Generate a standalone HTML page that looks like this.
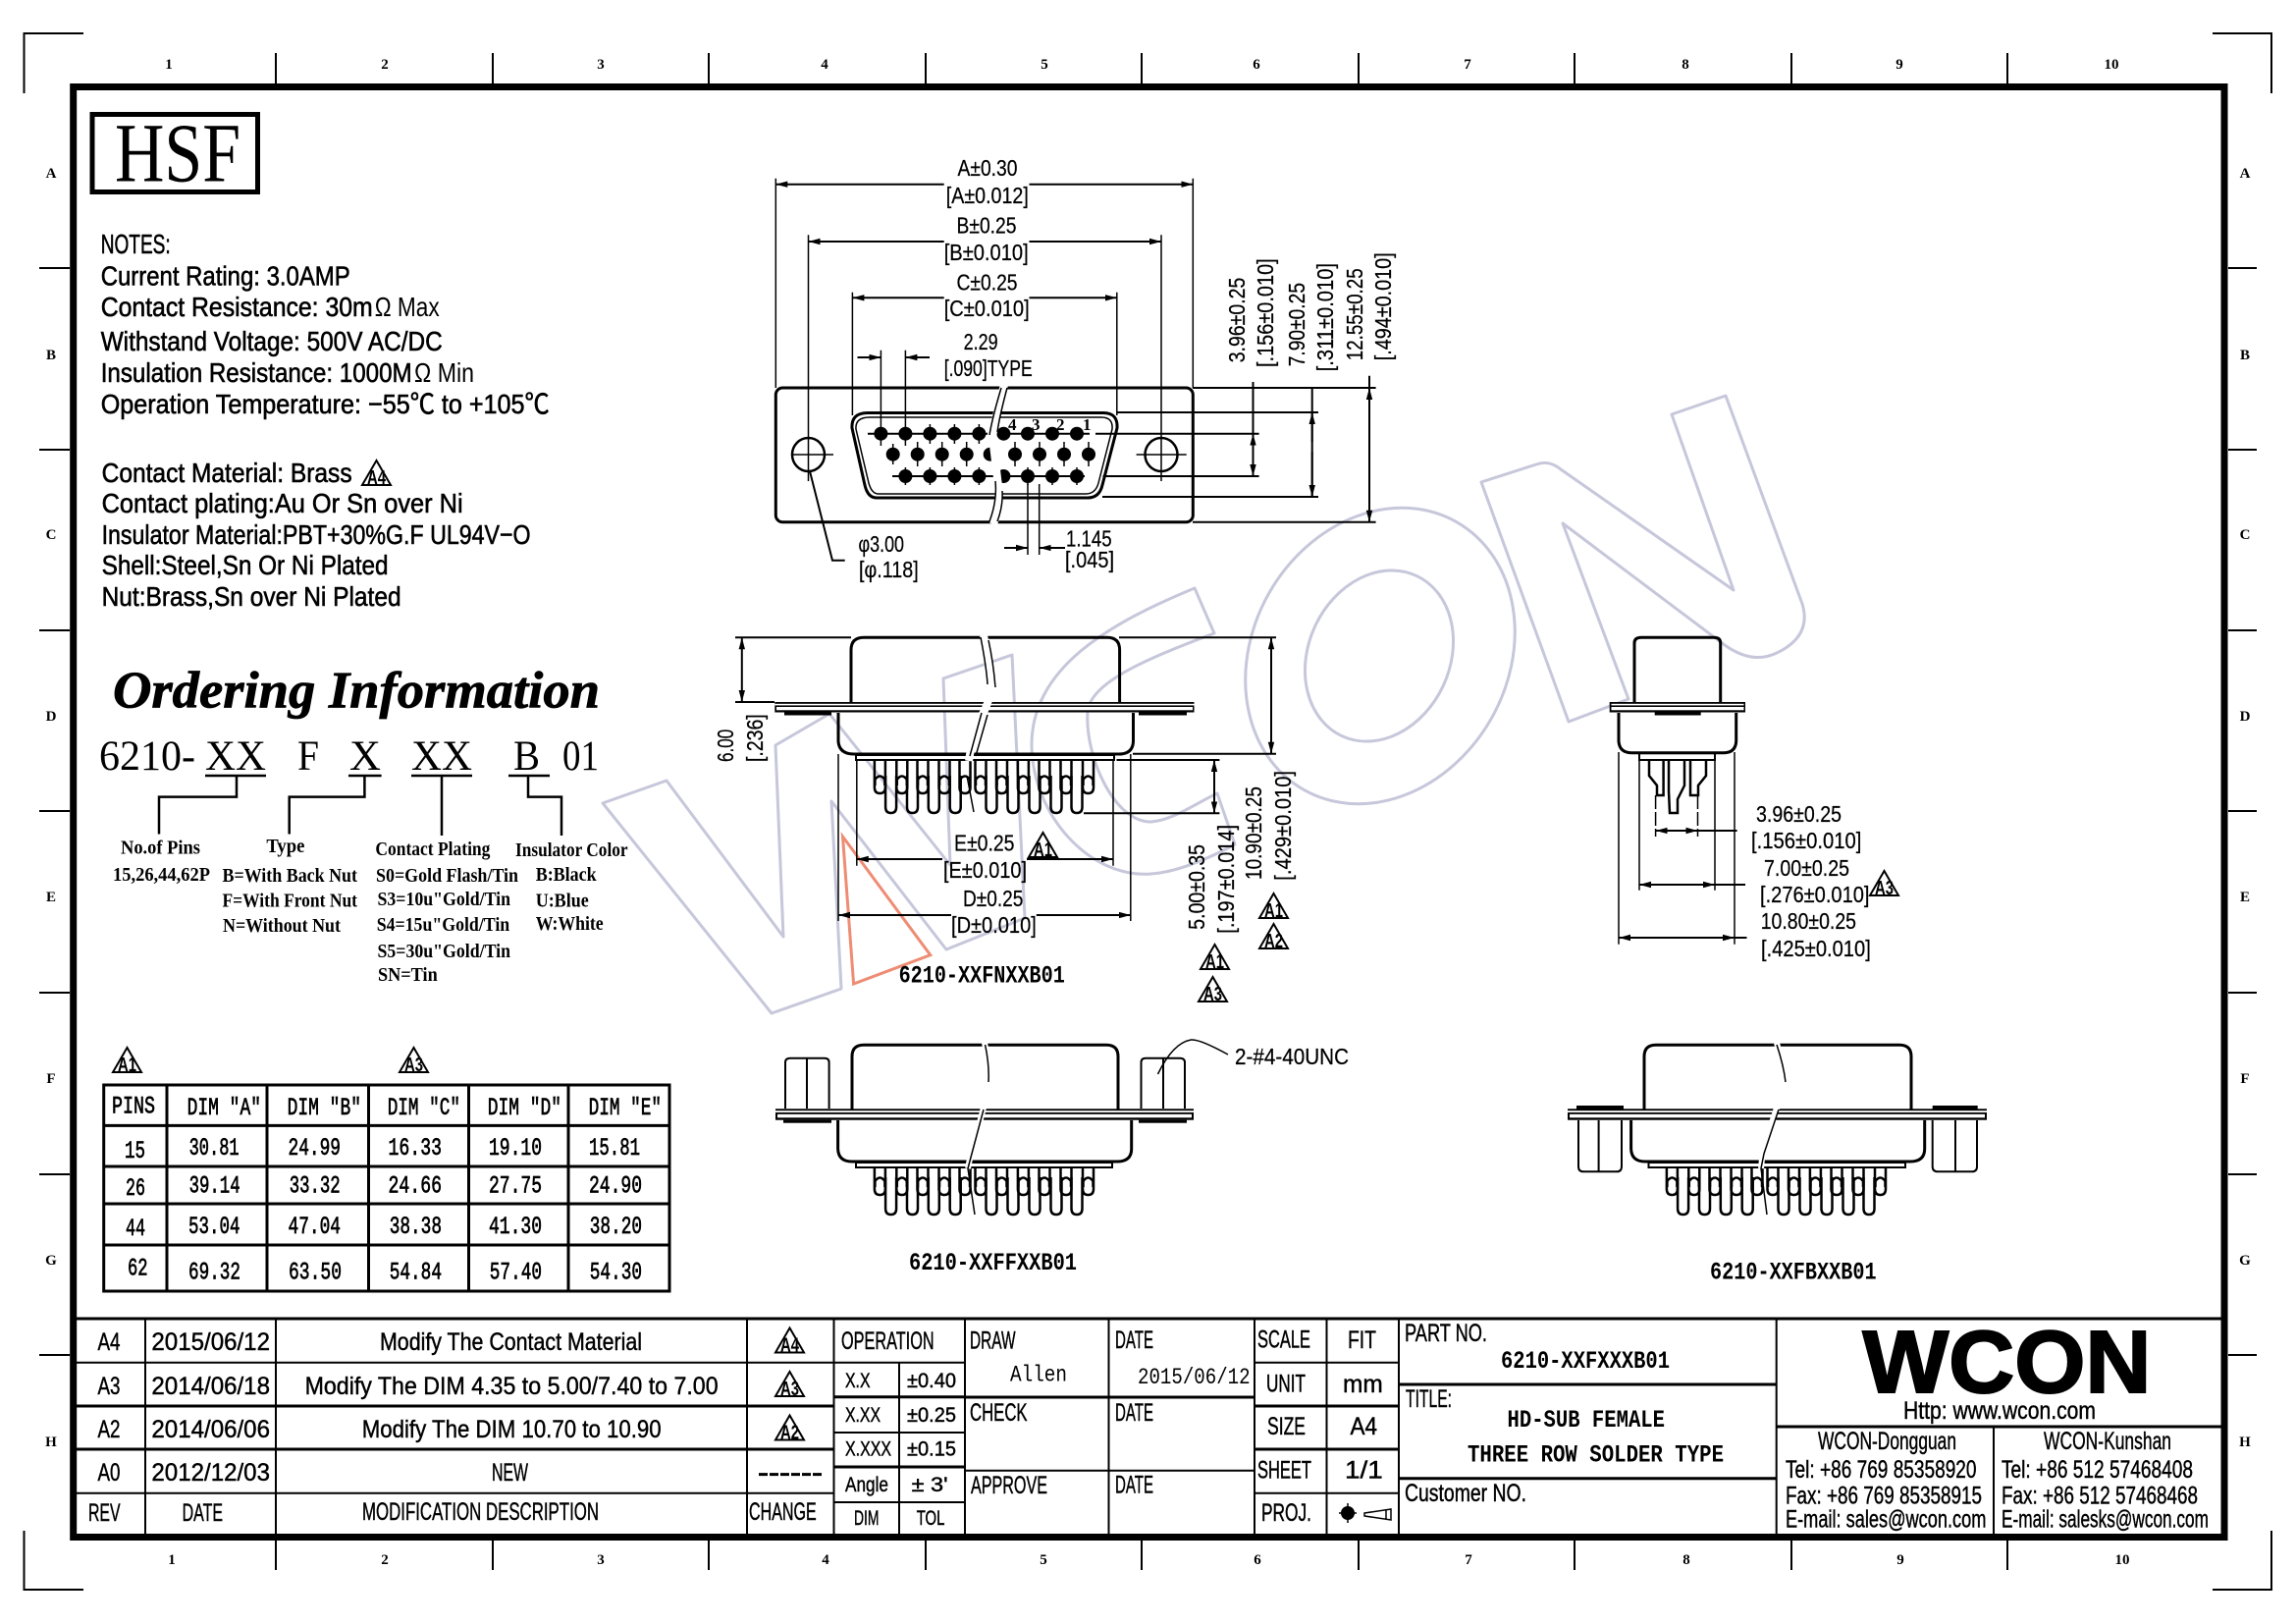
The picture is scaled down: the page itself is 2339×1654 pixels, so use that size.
<!DOCTYPE html>
<html><head><meta charset="utf-8"><title>6210-XXFXXXB01</title>
<style>
html,body{margin:0;padding:0;background:#fff}
svg{display:block;font-family:"Liberation Sans",sans-serif}
text{fill:#000}
.n{font-size:28px;stroke:#000;stroke-width:.6px}
.c{font-size:25px;stroke:#000;stroke-width:.45px}
.d{font-size:23px;stroke:#000;stroke-width:.25px}
.o{font-family:"Liberation Serif",serif;font-weight:bold;font-size:20px}
.v{font-family:"Liberation Serif",serif;font-size:43px}
.m{font-family:"Liberation Mono",monospace;font-weight:bold;font-size:25px}
.mt{font-family:"Liberation Mono",monospace;font-size:25px;stroke:#000;stroke-width:.7px}
.b{font-family:"Liberation Serif",serif;font-weight:bold;font-size:15px}
.t{font-size:20px;font-weight:bold}
.k{fill:none;stroke:#000}
.l1{stroke-width:1.5}.l2{stroke-width:2}.l3{stroke-width:3}
.wm{fill:none;stroke:#c6c7da;stroke-width:3;stroke-linejoin:round}
</style></head><body>
<svg xmlns="http://www.w3.org/2000/svg" width="2339" height="1654" viewBox="0 0 2339 1654">
<defs>
<marker id="a" markerUnits="userSpaceOnUse" markerWidth="13" markerHeight="8" refX="12" refY="4" orient="auto-start-reverse"><path d="M0 .8 L12 4 L0 7.2Z" fill="#000"/></marker>
<path id="pa" d="M-5.5 0 V28 Q-5.5 34 0 34 Q5.5 34 5.5 28 V0 M-5 26 V20 Q0 13 5 20 V26"/>
<path id="pb" d="M-5.5 16 V48 Q-5.5 54 0 54 Q5.5 54 5.5 48 V16"/>
<g id="pins" class="k" style="stroke-width:2.5">
<use href="#pa" x="896.4"/><use href="#pa" x="918.8"/><use href="#pa" x="940"/><use href="#pa" x="962"/><use href="#pa" x="983"/><use href="#pa" x="999"/><use href="#pa" x="1020.5"/><use href="#pa" x="1042.4"/><use href="#pa" x="1064"/><use href="#pa" x="1086"/><use href="#pa" x="1108.5"/>
<use href="#pb" x="907.6"/><use href="#pb" x="929.5"/><use href="#pb" x="951.3"/><use href="#pb" x="973.2"/><use href="#pb" x="1010"/><use href="#pb" x="1032"/><use href="#pb" x="1054"/><use href="#pb" x="1076"/><use href="#pb" x="1097"/>
</g>
<g id="tr"><path d="M15.5 1 L1 26 H30Z" fill="none" stroke="#000" stroke-width="2"/></g>
</defs>
<rect width="2339" height="1654" fill="#fff"/>

<!-- watermark -->
<path class="wm" d="M614 818 L679 795 L798 954 L790 759 L845 727 L968 881 L961 691 L1031 667 L1044 935 L964 967 L847 816 L857 1007 L786 1032Z"/>
<path class="wm" d="M1217 599 C1130 635,1050 680,1051 760 C1052 830,1110 895,1173 890 C1200 888,1230 875,1258 860 L1240 808 C1215 820,1195 835,1173 837 C1135 838,1105 770,1108 725 C1110 695,1170 670,1237 645Z"/>
<ellipse class="wm" cx="1406" cy="668" rx="157" ry="130" transform="rotate(-60 1406 668)"/>
<ellipse class="wm" cx="1405" cy="668" rx="90" ry="72" transform="rotate(-65 1405 668)"/>
<path class="wm" d="M1509 491 L1565 473 Q1578 468 1590 478 L1766 601 L1703 422 L1758 403 L1836 615 Q1846 648 1810 665 Q1785 677 1757 657 L1592 533 L1659 712 L1598 735Z"/>
<path d="M858.5 852 L947.8 972.7 L869.6 1002Z" fill="none" stroke="#ee8c74" stroke-width="3"/>

<!-- frame -->
<rect x="74.7" y="88.5" width="2191.3" height="1477" fill="none" stroke="#000" stroke-width="7"/>
<path class="k l2" d="M85 34 H24.5 V95 M2254 34 H2314 V95 M24.5 1559 V1619 H85 M2254 1619 H2314 V1559"/>
<path class="k l2" d="M281 54V88M502 54V88M722 54V88M943 54V88M1163 54V88M1384 54V88M1604 54V88M1825 54V88M2045 54V88 M281 1569V1599M502 1569V1599M722 1569V1599M943 1569V1599M1163 1569V1599M1384 1569V1599M1604 1569V1599M1825 1569V1599M2045 1569V1599"/>
<path class="k l2" d="M40 273H71M40 458H71M40 642H71M40 826H71M40 1011H71M40 1196H71M40 1380H71 M2270 273H2299M2270 458H2299M2270 642H2299M2270 826H2299M2270 1011H2299M2270 1196H2299M2270 1380H2299"/>
<g class="b" text-anchor="middle">
<text x="172" y="70">1</text><text x="392" y="70">2</text><text x="612" y="70">3</text><text x="840" y="70">4</text><text x="1064" y="70">5</text><text x="1280" y="70">6</text><text x="1495" y="70">7</text><text x="1717" y="70">8</text><text x="1935" y="70">9</text><text x="2151" y="70">10</text>
<text x="175" y="1593">1</text><text x="392" y="1593">2</text><text x="612" y="1593">3</text><text x="841" y="1593">4</text><text x="1063" y="1593">5</text><text x="1281" y="1593">6</text><text x="1496" y="1593">7</text><text x="1718" y="1593">8</text><text x="1936" y="1593">9</text><text x="2162" y="1593">10</text>
<text x="52" y="181">A</text><text x="52" y="366">B</text><text x="52" y="549">C</text><text x="52" y="734">D</text><text x="52" y="918">E</text><text x="52" y="1103">F</text><text x="52" y="1288">G</text><text x="52" y="1473">H</text>
<text x="2287" y="181">A</text><text x="2287" y="366">B</text><text x="2287" y="549">C</text><text x="2287" y="734">D</text><text x="2287" y="918">E</text><text x="2287" y="1103">F</text><text x="2287" y="1288">G</text><text x="2287" y="1473">H</text>
</g>

<!-- HSF + notes -->
<rect x="94" y="116.5" width="168.5" height="79" fill="none" stroke="#000" stroke-width="5"/>
<text x="117" y="184.6" textLength="128" lengthAdjust="spacingAndGlyphs" style="font-family:'Liberation Serif',serif;font-size:86px">HSF</text>
<g class="n">
<text x="102.7" y="258" textLength="71" lengthAdjust="spacingAndGlyphs">NOTES:</text>
<text x="102.7" y="290.5" textLength="254" lengthAdjust="spacingAndGlyphs">Current  Rating:  3.0AMP</text>
<text x="102.7" y="322" textLength="277" lengthAdjust="spacingAndGlyphs">Contact  Resistance:  30m</text>
<text x="381.7" y="322" textLength="66" lengthAdjust="spacingAndGlyphs" style="stroke-width:0">Ω  Max</text>
<text x="102.7" y="357" textLength="348" lengthAdjust="spacingAndGlyphs">Withstand  Voltage:  500V  AC/DC</text>
<text x="102.7" y="389" textLength="317" lengthAdjust="spacingAndGlyphs">Insulation  Resistance:  1000M</text>
<text x="422" y="389" textLength="61" lengthAdjust="spacingAndGlyphs" style="stroke-width:0">Ω  Min</text>
<text x="102.7" y="421" textLength="457" lengthAdjust="spacingAndGlyphs" style="font-family:'Liberation Sans','Noto Sans CJK SC',sans-serif">Operation  Temperature:  −55℃  to  +105℃</text>
<text x="103.6" y="491" textLength="255" lengthAdjust="spacingAndGlyphs">Contact  Material:  Brass</text>
<text x="103.6" y="522" textLength="368" lengthAdjust="spacingAndGlyphs">Contact  plating:Au  Or  Sn  over  Ni</text>
<text x="103.6" y="554" textLength="437" lengthAdjust="spacingAndGlyphs">Insulator  Material:PBT+30%G.F  UL94V−O</text>
<text x="103.6" y="585" textLength="292" lengthAdjust="spacingAndGlyphs">Shell:Steel,Sn  Or  Ni  Plated</text>
<text x="103.6" y="617" textLength="305" lengthAdjust="spacingAndGlyphs">Nut:Brass,Sn  over  Ni  Plated</text>
</g>
<use href="#tr" x="368" y="468"/><text class="t" x="374" y="493" textLength="19" lengthAdjust="spacingAndGlyphs">A4</text>

<!-- ordering -->
<text x="115" y="720.5" textLength="496" lengthAdjust="spacingAndGlyphs" style="font-family:'Liberation Serif',serif;font-weight:bold;font-style:italic;font-size:53px;stroke:#000;stroke-width:.8px">Ordering Information</text>
<g class="v">
<text x="101" y="784" textLength="98" lengthAdjust="spacingAndGlyphs">6210-</text>
<text x="209" y="784" textLength="62" lengthAdjust="spacingAndGlyphs">XX</text>
<text x="303" y="784" textLength="22" lengthAdjust="spacingAndGlyphs">F</text>
<text x="356" y="784" textLength="32" lengthAdjust="spacingAndGlyphs">X</text>
<text x="419" y="784" textLength="62" lengthAdjust="spacingAndGlyphs">XX</text>
<text x="523" y="784" textLength="27" lengthAdjust="spacingAndGlyphs">B</text>
<text x="573" y="784" textLength="37" lengthAdjust="spacingAndGlyphs">01</text>
</g>
<path class="k" style="stroke-width:2.5" d="M209 790H271M355 790H388.6M419 790H481M518 790H560 M241 790V811.6H162V849.5 M371.4 790V811.6H294.7V849.5 M450 790V851 M538 790V811.6H572V851"/>
<g class="o">
<text x="123" y="869.6" textLength="81" lengthAdjust="spacingAndGlyphs">No.of Pins</text>
<text x="271.4" y="868" textLength="39" lengthAdjust="spacingAndGlyphs">Type</text>
<text x="382.4" y="871" textLength="117" lengthAdjust="spacingAndGlyphs">Contact Plating</text>
<text x="525" y="872" textLength="114.6" lengthAdjust="spacingAndGlyphs">Insulator Color</text>
<text x="115" y="897" textLength="99" lengthAdjust="spacingAndGlyphs">15,26,44,62P</text>
<text x="226.5" y="898" textLength="137.5" lengthAdjust="spacingAndGlyphs">B=With Back Nut</text>
<text x="226.5" y="923.6" textLength="137.5" lengthAdjust="spacingAndGlyphs">F=With Front Nut</text>
<text x="227" y="949" textLength="120" lengthAdjust="spacingAndGlyphs">N=Without Nut</text>
<text x="383" y="898" textLength="145" lengthAdjust="spacingAndGlyphs">S0=Gold Flash/Tin</text>
<text x="384.5" y="922" textLength="135.5" lengthAdjust="spacingAndGlyphs">S3=10u"Gold/Tin</text>
<text x="383.7" y="948" textLength="135.5" lengthAdjust="spacingAndGlyphs">S4=15u"Gold/Tin</text>
<text x="384.5" y="975" textLength="135.5" lengthAdjust="spacingAndGlyphs">S5=30u"Gold/Tin</text>
<text x="385" y="999" textLength="60.7" lengthAdjust="spacingAndGlyphs">SN=Tin</text>
<text x="545.7" y="897" textLength="62" lengthAdjust="spacingAndGlyphs">B:Black</text>
<text x="545.7" y="923.6" textLength="54" lengthAdjust="spacingAndGlyphs">U:Blue</text>
<text x="545.7" y="947" textLength="69" lengthAdjust="spacingAndGlyphs">W:White</text>
</g>

<!-- dim table -->
<use href="#tr" x="114" y="1066"/><text class="t" x="120" y="1091" textLength="19" lengthAdjust="spacingAndGlyphs">A1</text>
<use href="#tr" x="406" y="1066"/><text class="t" x="412" y="1091" textLength="19" lengthAdjust="spacingAndGlyphs">A3</text>
<path class="k" style="stroke-width:3" d="M105.7 1105H682V1315H105.7Z M170 1105V1315M272 1105V1315M375.5 1105V1315M477.5 1105V1315M579 1105V1315 M105.7 1146.4H682M105.7 1188H682M105.7 1226H682M105.7 1268H682"/>
<g class="mt">
<text x="114" y="1133.5" textLength="44" lengthAdjust="spacingAndGlyphs">PINS</text>
<text x="190.6" y="1135" textLength="75.4" lengthAdjust="spacingAndGlyphs">DIM "A"</text>
<text x="292.6" y="1135" textLength="75.4" lengthAdjust="spacingAndGlyphs">DIM "B"</text>
<text x="394.7" y="1135" textLength="74.3" lengthAdjust="spacingAndGlyphs">DIM "C"</text>
<text x="496.7" y="1135" textLength="75.3" lengthAdjust="spacingAndGlyphs">DIM "D"</text>
<text x="599.6" y="1135" textLength="74.4" lengthAdjust="spacingAndGlyphs">DIM "E"</text>
<text x="127" y="1179" textLength="21" lengthAdjust="spacingAndGlyphs">15</text>
<text x="192.6" y="1176" textLength="51" lengthAdjust="spacingAndGlyphs">30.81</text>
<text x="293.5" y="1176" textLength="53.5" lengthAdjust="spacingAndGlyphs">24.99</text>
<text x="395.5" y="1176" textLength="54.5" lengthAdjust="spacingAndGlyphs">16.33</text>
<text x="498" y="1176" textLength="54" lengthAdjust="spacingAndGlyphs">19.10</text>
<text x="600" y="1176" textLength="52" lengthAdjust="spacingAndGlyphs">15.81</text>
<text x="128" y="1217" textLength="20" lengthAdjust="spacingAndGlyphs">26</text>
<text x="192.6" y="1214.7" textLength="52" lengthAdjust="spacingAndGlyphs">39.14</text>
<text x="294.7" y="1214.7" textLength="52" lengthAdjust="spacingAndGlyphs">33.32</text>
<text x="395.5" y="1214.7" textLength="54.5" lengthAdjust="spacingAndGlyphs">24.66</text>
<text x="498" y="1214.7" textLength="54" lengthAdjust="spacingAndGlyphs">27.75</text>
<text x="600" y="1214.7" textLength="54" lengthAdjust="spacingAndGlyphs">24.90</text>
<text x="128" y="1258" textLength="20" lengthAdjust="spacingAndGlyphs">44</text>
<text x="192" y="1256" textLength="52.5" lengthAdjust="spacingAndGlyphs">53.04</text>
<text x="293.5" y="1256" textLength="53.5" lengthAdjust="spacingAndGlyphs">47.04</text>
<text x="396.7" y="1256" textLength="53.3" lengthAdjust="spacingAndGlyphs">38.38</text>
<text x="498" y="1256" textLength="54" lengthAdjust="spacingAndGlyphs">41.30</text>
<text x="600.8" y="1256" textLength="53.2" lengthAdjust="spacingAndGlyphs">38.20</text>
<text x="130" y="1298.6" textLength="20.6" lengthAdjust="spacingAndGlyphs">62</text>
<text x="192" y="1302.7" textLength="53" lengthAdjust="spacingAndGlyphs">69.32</text>
<text x="294" y="1302.7" textLength="54" lengthAdjust="spacingAndGlyphs">63.50</text>
<text x="396.7" y="1302.7" textLength="53.3" lengthAdjust="spacingAndGlyphs">54.84</text>
<text x="498.8" y="1302.7" textLength="53.2" lengthAdjust="spacingAndGlyphs">57.40</text>
<text x="600.8" y="1302.7" textLength="53.2" lengthAdjust="spacingAndGlyphs">54.30</text>
</g>

<!-- view 1 -->
<rect x="790.3" y="395" width="425" height="136.7" rx="7" class="k l3"/>
<path class="k" style="stroke-width:3" d="M884 420.5 H1124 Q1139 420.5 1138 436 L1123 494 Q1120 507 1108 507 H893 Q884 507 881 494 L868 436 Q867 420.5 884 420.5Z"/>
<path class="k l1" d="M886 425 H1122 Q1134 425 1133 437 L1119 492 Q1116 503 1106 503 H895 Q888 503 885 492 L872 437 Q871 425 886 425Z"/>
<g fill="#000">
<circle cx="897.4" cy="441.7" r="7"/><circle cx="922.4" cy="441.7" r="7"/><circle cx="947.4" cy="441.7" r="7"/><circle cx="972.4" cy="441.7" r="7"/><circle cx="997.4" cy="441.7" r="7"/><circle cx="1022.4" cy="441.7" r="7"/><circle cx="1047" cy="441.7" r="7"/><circle cx="1072" cy="441.7" r="7"/><circle cx="1097" cy="441.7" r="7"/>
<circle cx="909.7" cy="462.7" r="7"/><circle cx="934.7" cy="462.7" r="7"/><circle cx="959.7" cy="462.7" r="7"/><circle cx="984.7" cy="462.7" r="7"/><circle cx="1008.7" cy="462.7" r="7"/><circle cx="1034" cy="462.7" r="7"/><circle cx="1059" cy="462.7" r="7"/><circle cx="1084" cy="462.7" r="7"/><circle cx="1109" cy="462.7" r="7"/>
<circle cx="922.4" cy="485" r="7"/><circle cx="947.4" cy="485" r="7"/><circle cx="972.4" cy="485" r="7"/><circle cx="997.4" cy="485" r="7"/><circle cx="1022.4" cy="485" r="7"/><circle cx="1047" cy="485" r="7"/><circle cx="1072" cy="485" r="7"/><circle cx="1097" cy="485" r="7"/>
</g>
<path class="k l2" d="M884 441.7 H1006 M1016 441.7 H1110 M1116 441.7 H1282.6 M909 485 H1014 M1026 485 H1105 M1123.5 485 H1282.6 M1138 420 H1343 M1123 506 H1343 M1215 395 H1401.6 M1215 531.7 H1401.6"/>
<path class="k l1" d="M897.4 454 V436 M922.4 454 V436 M947.4 452 V432 M972.4 452 V432 M997.4 452 V432 M909.7 473 V452 M934.7 475 V450 M959.7 475 V450 M984.7 475 V450 M1034 475 V450 M1059 475 V450 M1084 475 V450 M1109 475 V450 M922.4 494 V476 M947.4 494 V476 M972.4 494 V476 M997.4 494 V476 M1047 494 V476 M1072 494 V476 M1097 494 V476"/>
<ellipse cx="823.5" cy="463" rx="16.5" ry="17" class="k" style="stroke-width:2.5"/>
<ellipse cx="1183" cy="463" rx="16.5" ry="17" class="k" style="stroke-width:2.5"/>
<path class="k l1" d="M806 463H849 M1157.6 463H1208.7"/>
<path d="M1023 392 Q1014 425 1011 445 Q1014 470 1017 495 Q1019 515 1012 534" fill="none" stroke="#fff" stroke-width="8"/>
<path class="k l1" d="M1020 395 Q1011 425 1008 443 M1026 395 Q1018 425 1016 440 M1014 490 Q1016 510 1008 531 M1021 500 Q1022 515 1016 531"/>
<g class="b" style="font-size:17px">
<text x="1103" y="438">1</text><text x="1076" y="438">2</text><text x="1051" y="438">3</text><text x="1027" y="438">4</text>
</g>
<!-- view1 dims -->
<path class="k l1" d="M790.3 181.7V395 M1215.3 181.7V395 M823.5 239.3V490 M1183 239.3V490 M868.4 297.7V423 M1137.8 297.7V423 M897.4 356.7V435 M922.4 356.7V435"/>
<g class="k l2">
<path d="M961.7 187.7H790.3" marker-end="url(#a)"/><path d="M1048.5 187.7H1215.3" marker-end="url(#a)"/>
<path d="M961.7 246H823.5" marker-end="url(#a)"/><path d="M1048.5 246H1183" marker-end="url(#a)"/>
<path d="M961.7 303.3H868.4" marker-end="url(#a)"/><path d="M1048.5 303.3H1137.8" marker-end="url(#a)"/>
<path d="M873.5 364H897.4" marker-end="url(#a)"/><path d="M947 364H922.4" marker-end="url(#a)"/>
</g>
<path class="k l2" d="M1276.5 389V485"/><path class="k l2" d="M1276.5 460V441.7" marker-end="url(#a)"/><path class="k l2" d="M1276.5 465V485" marker-end="url(#a)"/>
<path class="k l2" d="M1336.7 395V506"/><path class="k l2" d="M1336.7 450V420" marker-end="url(#a)"/><path class="k l2" d="M1336.7 460V506" marker-end="url(#a)"/>
<path class="k l2" d="M1395 382.7V531.7"/><path class="k l2" d="M1395 450V395" marker-end="url(#a)"/><path class="k l2" d="M1395 460V531.7" marker-end="url(#a)"/>
<g class="d">
<text x="975.5" y="179" textLength="61" lengthAdjust="spacingAndGlyphs">A±0.30</text>
<text x="963.8" y="207" textLength="84" lengthAdjust="spacingAndGlyphs">[A±0.012]</text>
<text x="974.5" y="237.3" textLength="61" lengthAdjust="spacingAndGlyphs">B±0.25</text>
<text x="961.7" y="265" textLength="86" lengthAdjust="spacingAndGlyphs">[B±0.010]</text>
<text x="974.5" y="295.7" textLength="62" lengthAdjust="spacingAndGlyphs">C±0.25</text>
<text x="961.7" y="322" textLength="87" lengthAdjust="spacingAndGlyphs">[C±0.010]</text>
<text x="981.6" y="356" textLength="35" lengthAdjust="spacingAndGlyphs">2.29</text>
<text x="961.7" y="383" textLength="90" lengthAdjust="spacingAndGlyphs">[.090]TYPE</text>
<text x="1086" y="556.7" textLength="46.6" lengthAdjust="spacingAndGlyphs">1.145</text>
<text x="1085" y="578" textLength="50" lengthAdjust="spacingAndGlyphs">[.045]</text>
<text x="874.5" y="562" textLength="46.5" lengthAdjust="spacingAndGlyphs">φ3.00</text>
<text x="875" y="588" textLength="60.7" lengthAdjust="spacingAndGlyphs">[φ.118]</text>
<text transform="translate(1267.9,369.3) rotate(-90)" textLength="86.6" lengthAdjust="spacingAndGlyphs">3.96±0.25</text>
<text transform="translate(1297,374) rotate(-90)" textLength="110.7" lengthAdjust="spacingAndGlyphs">[.156±0.010]</text>
<text transform="translate(1329,373.3) rotate(-90)" textLength="85.3" lengthAdjust="spacingAndGlyphs">7.90±0.25</text>
<text transform="translate(1358,378.3) rotate(-90)" textLength="110.3" lengthAdjust="spacingAndGlyphs">[.311±0.010]</text>
<text transform="translate(1387.8,367.3) rotate(-90)" textLength="94" lengthAdjust="spacingAndGlyphs">12.55±0.25</text>
<text transform="translate(1416.8,367.3) rotate(-90)" textLength="110" lengthAdjust="spacingAndGlyphs">[.494±0.010]</text>
</g>
<path class="k l2" d="M825 480 L848 570.7 H860.7"/>
<path class="k l1" d="M1047 493V565 M1058.7 493V565"/>
<path class="k l2" d="M1023 558H1047" marker-end="url(#a)"/><path class="k l2" d="M1085 558H1058.7" marker-end="url(#a)"/>

<!-- view 2 -->
<path class="k l3" d="M867 715 V662 Q867 649.3 880 649.3 H1128 Q1140.6 649.3 1140.6 662 V715"/>
<rect x="789.3" y="715" width="427.2" height="10.5" fill="#000"/><rect x="789.3" y="716.8" width="427.2" height="1.6" fill="#fff"/><rect x="791" y="720" width="424" height="3.3" fill="#fff"/>
<rect x="799" y="725" width="48" height="3.5" fill="#000"/><rect x="1160" y="725" width="49" height="3.5" fill="#000"/>
<path class="k l3" d="M854 726 V755 Q855 768 870 768 H1140 Q1154 768 1154.5 755 V726"/>
<use href="#pins" y="774"/>
<rect x="872" y="769" width="263" height="5" fill="#fff" stroke="#000" stroke-width="2"/>
<path d="M1002 647 Q1008 680 1010 700 Q1007 720 996 735 Q990 755 987 775" fill="none" stroke="#fff" stroke-width="8"/>
<path class="k l1" d="M999 649 Q1005 680 1006 697 M1000 726 L988 770 M985 790 L992 827 M1007 652 Q1012 675 1014 700 M1006 728 L994 770"/>
<!-- view 2 dims -->
<path class="k l2" d="M749 649.3H867 M749 715H789 M1140 649.3H1300 M1154 767.7H1300 M1137.5 774H1242.4 M1104 828.3H1242.4"/>
<path class="k l2" d="M755.8 680V649.3" marker-end="url(#a)"/><path class="k l2" d="M755.8 680V715" marker-end="url(#a)"/>
<path class="k l2" d="M1295 700V649.3" marker-end="url(#a)"/><path class="k l2" d="M1295 700V767.7" marker-end="url(#a)"/>
<path class="k l2" d="M1237 800V774" marker-end="url(#a)"/><path class="k l2" d="M1237 800V828.3" marker-end="url(#a)"/>
<path class="k l1" d="M872.8 775V881.7 M1134 775V881.7 M854 768V938 M1151.8 768V938"/>
<path class="k l2" d="M960 875H872.8" marker-end="url(#a)"/><path class="k l2" d="M1046 875H1134" marker-end="url(#a)"/>
<path class="k l2" d="M969 932H854" marker-end="url(#a)"/><path class="k l2" d="M1055.8 932H1151.8" marker-end="url(#a)"/>
<g class="d">
<text x="972" y="866.7" textLength="61.5" lengthAdjust="spacingAndGlyphs">E±0.25</text>
<text x="961" y="894" textLength="85" lengthAdjust="spacingAndGlyphs">[E±0.010]</text>
<text x="981" y="923" textLength="61.4" lengthAdjust="spacingAndGlyphs">D±0.25</text>
<text x="969" y="950" textLength="86.8" lengthAdjust="spacingAndGlyphs">[D±0.010]</text>
<text transform="translate(746.9,776) rotate(-90)" textLength="33.3" lengthAdjust="spacingAndGlyphs">6.00</text>
<text transform="translate(776.8,776) rotate(-90)" textLength="48.7" lengthAdjust="spacingAndGlyphs">[.236]</text>
<text transform="translate(1284.8,896) rotate(-90)" textLength="95" lengthAdjust="spacingAndGlyphs">10.90±0.25</text>
<text transform="translate(1315,896.7) rotate(-90)" textLength="111.7" lengthAdjust="spacingAndGlyphs">[.429±0.010]</text>
<text transform="translate(1226.8,946.7) rotate(-90)" textLength="86.7" lengthAdjust="spacingAndGlyphs">5.00±0.35</text>
<text transform="translate(1257,950.7) rotate(-90)" textLength="110.7" lengthAdjust="spacingAndGlyphs">[.197±0.014]</text>
</g>
<use href="#tr" x="1047" y="847"/><text class="t" x="1053" y="872" textLength="19" lengthAdjust="spacingAndGlyphs">A1</text>
<use href="#tr" x="1222" y="961"/><text class="t" x="1228" y="986" textLength="19" lengthAdjust="spacingAndGlyphs">A1</text>
<use href="#tr" x="1220" y="994"/><text class="t" x="1226" y="1019" textLength="19" lengthAdjust="spacingAndGlyphs">A3</text>
<use href="#tr" x="1282" y="909"/><text class="t" x="1288" y="934" textLength="19" lengthAdjust="spacingAndGlyphs">A1</text>
<use href="#tr" x="1282" y="940"/><text class="t" x="1288" y="965" textLength="19" lengthAdjust="spacingAndGlyphs">A2</text>
<text class="m" x="915.6" y="1000.7" textLength="169.2" lengthAdjust="spacingAndGlyphs">6210-XXFNXXB01</text>

<!-- view 3 -->
<path class="k l3" d="M1665 715 V655 Q1665 649.3 1672 649.3 H1746 Q1752.7 649.3 1752.7 655 V715"/>
<rect x="1639.7" y="715" width="138.3" height="10.5" fill="#000"/><rect x="1641.5" y="716.8" width="135" height="1.6" fill="#fff"/><rect x="1641.5" y="720" width="135" height="3.3" fill="#fff"/>
<rect x="1685.7" y="725" width="47" height="3.5" fill="#000"/>
<path class="k l3" d="M1649 726 V755 Q1650 766.7 1662 766.7 H1756 Q1768 766.7 1768.7 755 V726"/>
<rect x="1670" y="767.3" width="77" height="6.7" fill="#fff" stroke="#000" stroke-width="2"/>
<path class="k" style="stroke-width:2.5" d="M1680 774 V790 L1688 800 V810 H1694.6 V774 M1700 774 V806 L1701 828 H1709 V814 L1716 800 V774 M1722 774 V810 H1730 V800 L1738 790 V774"/>
<path class="k l1" d="M1649 766V961.7 M1767 766V961.7 M1670 775V906.7 M1747 775V906.7"/>
<path class="k l1" stroke-dasharray="14 3" d="M1686.6 810V852 M1729.5 810V852"/>
<path class="k l2" d="M1769.6 846H1686.6" marker-end="url(#a)"/><path class="k l2" d="M1700 846H1729.5" marker-end="url(#a)"/>
<path class="k l2" d="M1778 901H1670" marker-end="url(#a)"/><path class="k l2" d="M1680 901H1747" marker-end="url(#a)"/>
<path class="k l2" d="M1779.5 955H1649" marker-end="url(#a)"/><path class="k l2" d="M1660 955H1767" marker-end="url(#a)"/>
<g class="d">
<text x="1789" y="837" textLength="87" lengthAdjust="spacingAndGlyphs">3.96±0.25</text>
<text x="1784" y="864" textLength="112.4" lengthAdjust="spacingAndGlyphs">[.156±0.010]</text>
<text x="1797" y="892" textLength="87" lengthAdjust="spacingAndGlyphs">7.00±0.25</text>
<text x="1793" y="919" textLength="111.5" lengthAdjust="spacingAndGlyphs">[.276±0.010]</text>
<text x="1793.7" y="946" textLength="97.3" lengthAdjust="spacingAndGlyphs">10.80±0.25</text>
<text x="1794" y="974" textLength="111.8" lengthAdjust="spacingAndGlyphs">[.425±0.010]</text>
</g>
<use href="#tr" x="1904" y="886"/><text class="t" x="1910" y="911" textLength="19" lengthAdjust="spacingAndGlyphs">A3</text>

<!-- view 4 -->
<path class="k l3" d="M868 1130 V1076 Q868 1064.3 880 1064.3 H1127 Q1139 1064.3 1139 1076 V1130"/>
<path class="k l2" d="M800 1129 V1082 Q800 1077.7 805 1077.7 H840 Q844.6 1077.7 844.6 1082 V1129 M822 1077.7 V1129 M1162.5 1129 V1082 Q1162.5 1077.7 1167 1077.7 H1202 Q1207 1077.7 1207 1082 V1129 M1185 1077.7 V1129"/>
<rect x="790" y="1129.3" width="426" height="11.4" fill="#000"/><rect x="790" y="1131.2" width="426" height="1.8" fill="#fff"/><rect x="792" y="1134.8" width="422" height="3.5" fill="#fff"/>
<rect x="798" y="1140.7" width="49" height="3" fill="#000"/><rect x="1160" y="1140.7" width="49" height="3" fill="#000"/>
<path class="k l3" d="M853.6 1141 V1170 Q854 1183 868 1183 H1138 Q1152.7 1183 1152.7 1170 V1141"/>
<use href="#pins" y="1183"/>
<rect x="872" y="1184" width="261" height="5" fill="#fff" stroke="#000" stroke-width="2"/>
<path d="M1003 1062 Q1008 1085 1007 1105 Q1000 1140 990 1170 L986 1190" fill="none" stroke="#fff" stroke-width="6"/>
<path class="k l1" d="M1003.6 1064 Q1008 1085 1007 1102 M1002 1130 L990 1175 L986 1190 L993 1237"/>
<path class="k l1" d="M1179.5 1094 Q1195 1062 1213.4 1059 Q1222 1058 1251 1074"/>
<text class="d" x="1258" y="1084" textLength="116" lengthAdjust="spacingAndGlyphs">2-#4-40UNC</text>
<text class="m" x="926" y="1293" textLength="171" lengthAdjust="spacingAndGlyphs">6210-XXFFXXB01</text>

<!-- view 5 -->
<path class="k l3" d="M1675 1130 V1076 Q1675 1064.3 1687 1064.3 H1935 Q1947 1064.3 1947 1076 V1130"/>
<rect x="1606" y="1126" width="48" height="3.5" fill="#000"/><rect x="1968.7" y="1126" width="46" height="3.5" fill="#000"/>
<rect x="1597" y="1129.3" width="427" height="11.4" fill="#000"/><rect x="1597" y="1131.2" width="427" height="1.8" fill="#fff"/><rect x="1599" y="1134.8" width="423" height="3.5" fill="#fff"/>
<path class="k l2" d="M1608 1141 V1188 Q1608 1193.3 1613 1193.3 H1647 Q1652 1193.3 1652 1188 V1141 M1628.6 1141 V1193 M1968.7 1141 V1188 Q1968.7 1193.3 1974 1193.3 H2009 Q2014 1193.3 2014 1188 V1141 M1992 1141 V1193"/>
<path class="k l3" d="M1661.6 1141 V1170 Q1662 1183 1676 1183 H1946 Q1960.7 1183 1960.7 1170 V1141"/>
<use href="#pins" x="807" y="1183"/>
<rect x="1679.5" y="1184" width="261.5" height="5" fill="#fff" stroke="#000" stroke-width="2"/>
<path d="M1810 1062 Q1816 1085 1819 1102 Q1806 1140 1796 1170 L1794 1190" fill="none" stroke="#fff" stroke-width="6"/>
<path class="k l1" d="M1810 1064 Q1817 1085 1819 1102 M1812 1130 L1797 1175 L1794 1190 L1800 1237"/>
<text class="m" x="1742" y="1302.7" textLength="169.6" lengthAdjust="spacingAndGlyphs">6210-XXFBXXB01</text>

<!-- title block -->
<path class="k l3" d="M78 1343H2263"/>
<path class="k l2" d="M78 1387.7H983 M78 1520.7H849.5 M148 1343V1562 M281 1343V1562 M761 1343V1562 M849.5 1343V1562 M983 1343V1562 M916 1387.7V1562 M849.5 1459H983 M849.5 1530H983 M1129.5 1343V1562 M1278 1343V1562 M1351.5 1343V1562 M1425 1343V1562 M1809.7 1343V1562 M1278 1387.7H1425 M1278 1520.7H1425 M983 1497.7H1278 M2031 1453V1562"/>
<path class="k l3" d="M78 1432H849.5 M78 1476H849.5 M849.5 1422.7H983 M849.5 1494H983 M983 1423H1278 M1278 1432H1425 M1278 1476H1425 M1425 1410H1810 M1425 1505.7H1810 M1810 1453H2263"/>
<g class="c">
<text x="99.5" y="1375" textLength="23" lengthAdjust="spacingAndGlyphs">A4</text>
<text x="154.4" y="1375" textLength="120.6" lengthAdjust="spacingAndGlyphs">2015/06/12</text>
<text x="387" y="1375" textLength="267" lengthAdjust="spacingAndGlyphs">Modify  The  Contact  Material</text>
<text x="99.5" y="1420" textLength="23" lengthAdjust="spacingAndGlyphs">A3</text>
<text x="154.4" y="1420" textLength="120.6" lengthAdjust="spacingAndGlyphs">2014/06/18</text>
<text x="310.6" y="1420" textLength="421" lengthAdjust="spacingAndGlyphs">Modify  The  DIM  4.35  to  5.00/7.40  to  7.00</text>
<text x="99.5" y="1464" textLength="23" lengthAdjust="spacingAndGlyphs">A2</text>
<text x="154.4" y="1464" textLength="120.6" lengthAdjust="spacingAndGlyphs">2014/06/06</text>
<text x="368.7" y="1464" textLength="305" lengthAdjust="spacingAndGlyphs">Modify  The  DIM  10.70  to  10.90</text>
<text x="99.5" y="1508" textLength="23" lengthAdjust="spacingAndGlyphs">A0</text>
<text x="154.4" y="1508" textLength="120.6" lengthAdjust="spacingAndGlyphs">2012/12/03</text>
<text x="501" y="1508" textLength="37" lengthAdjust="spacingAndGlyphs">NEW</text>
<text x="90" y="1549" textLength="32.5" lengthAdjust="spacingAndGlyphs">REV</text>
<text x="185.6" y="1549" textLength="41.4" lengthAdjust="spacingAndGlyphs">DATE</text>
<text x="369" y="1548" textLength="241" lengthAdjust="spacingAndGlyphs">MODIFICATION  DESCRIPTION</text>
<text x="763" y="1548" textLength="68.7" lengthAdjust="spacingAndGlyphs">CHANGE</text>
<text x="857" y="1374" textLength="94.6" lengthAdjust="spacingAndGlyphs">OPERATION</text>
<text x="861" y="1413" textLength="25.5" lengthAdjust="spacingAndGlyphs" style="font-size:21px">X.X</text>
<text x="924" y="1413" textLength="50" lengthAdjust="spacingAndGlyphs" style="font-size:21px">±0.40</text>
<text x="861" y="1448" textLength="36" lengthAdjust="spacingAndGlyphs" style="font-size:21px">X.XX</text>
<text x="924" y="1448" textLength="50" lengthAdjust="spacingAndGlyphs" style="font-size:21px">±0.25</text>
<text x="861" y="1482.7" textLength="47" lengthAdjust="spacingAndGlyphs" style="font-size:21px">X.XXX</text>
<text x="924" y="1482.7" textLength="50" lengthAdjust="spacingAndGlyphs" style="font-size:21px">±0.15</text>
<text x="861" y="1519" textLength="44" lengthAdjust="spacingAndGlyphs" style="font-size:21px">Angle</text>
<text x="928.6" y="1519" textLength="37" lengthAdjust="spacingAndGlyphs" style="font-size:21px">± 3'</text>
<text x="870" y="1553" textLength="25.5" lengthAdjust="spacingAndGlyphs" style="font-size:21px">DIM</text>
<text x="933.7" y="1553" textLength="28.7" lengthAdjust="spacingAndGlyphs" style="font-size:21px">TOL</text>
<text x="988" y="1373.3" textLength="46.5" lengthAdjust="spacingAndGlyphs">DRAW</text>
<text x="988" y="1447" textLength="58.6" lengthAdjust="spacingAndGlyphs">CHECK</text>
<text x="989" y="1521" textLength="78" lengthAdjust="spacingAndGlyphs">APPROVE</text>
<text x="1136" y="1373" textLength="39" lengthAdjust="spacingAndGlyphs">DATE</text>
<text x="1136" y="1447" textLength="39" lengthAdjust="spacingAndGlyphs">DATE</text>
<text x="1136" y="1520.7" textLength="39" lengthAdjust="spacingAndGlyphs">DATE</text>
<text x="1281" y="1372.7" textLength="54" lengthAdjust="spacingAndGlyphs">SCALE</text>
<text x="1373" y="1373" textLength="29" lengthAdjust="spacingAndGlyphs">FIT</text>
<text x="1290" y="1417.7" textLength="40" lengthAdjust="spacingAndGlyphs">UNIT</text>
<text x="1368" y="1418" textLength="40.7" lengthAdjust="spacingAndGlyphs">mm</text>
<text x="1291" y="1461" textLength="39" lengthAdjust="spacingAndGlyphs">SIZE</text>
<text x="1375.5" y="1461" textLength="27.5" lengthAdjust="spacingAndGlyphs">A4</text>
<text x="1281" y="1505.7" textLength="55" lengthAdjust="spacingAndGlyphs">SHEET</text>
<text x="1370" y="1505.7" textLength="38.7" lengthAdjust="spacingAndGlyphs">1/1</text>
<text x="1285" y="1549" textLength="51" lengthAdjust="spacingAndGlyphs">PROJ.</text>
<text x="1431" y="1366" textLength="84" lengthAdjust="spacingAndGlyphs">PART  NO.</text>
<text x="1432" y="1433" textLength="47" lengthAdjust="spacingAndGlyphs">TITLE:</text>
<text x="1431" y="1529" textLength="124" lengthAdjust="spacingAndGlyphs">Customer  NO.</text>
<text x="1939" y="1445" textLength="196" lengthAdjust="spacingAndGlyphs">Http:  www.wcon.com</text>
<text x="1852" y="1476" textLength="141" lengthAdjust="spacingAndGlyphs">WCON-Dongguan</text>
<text x="1819" y="1505" textLength="194.5" lengthAdjust="spacingAndGlyphs">Tel:  +86  769  85358920</text>
<text x="1819" y="1531.7" textLength="200" lengthAdjust="spacingAndGlyphs">Fax:  +86  769  85358915</text>
<text x="1819" y="1555.7" textLength="204.4" lengthAdjust="spacingAndGlyphs">E-mail:  sales@wcon.com</text>
<text x="2082" y="1476" textLength="130" lengthAdjust="spacingAndGlyphs">WCON-Kunshan</text>
<text x="2039" y="1505" textLength="195" lengthAdjust="spacingAndGlyphs">Tel:  +86  512  57468408</text>
<text x="2039" y="1531.7" textLength="200" lengthAdjust="spacingAndGlyphs">Fax:  +86  512  57468468</text>
<text x="2039" y="1555.7" textLength="211" lengthAdjust="spacingAndGlyphs">E-mail:  salesks@wcon.com</text>
</g>
<path d="M773 1501.6H838" stroke="#000" stroke-width="3" stroke-dasharray="9 2"/>
<use href="#tr" x="789" y="1351.5"/><text class="t" x="795" y="1376.5" textLength="19" lengthAdjust="spacingAndGlyphs">A4</text>
<use href="#tr" x="789" y="1396"/><text class="t" x="795" y="1421" textLength="19" lengthAdjust="spacingAndGlyphs">A3</text>
<use href="#tr" x="789" y="1440.5"/><text class="t" x="795" y="1465.5" textLength="19" lengthAdjust="spacingAndGlyphs">A2</text>
<g class="m" style="font-size:23px;font-weight:normal">
<text x="1029" y="1406.7" textLength="58" lengthAdjust="spacingAndGlyphs">Allen</text>
<text x="1159" y="1409" textLength="114.6" lengthAdjust="spacingAndGlyphs">2015/06/12</text>
</g>
<g class="m">
<text x="1529" y="1393" textLength="172" lengthAdjust="spacingAndGlyphs">6210-XXFXXXB01</text>
<text x="1535.5" y="1453" textLength="160.5" lengthAdjust="spacingAndGlyphs">HD-SUB FEMALE</text>
<text x="1495" y="1488.7" textLength="261" lengthAdjust="spacingAndGlyphs">THREE ROW SOLDER TYPE</text>
</g>
<circle cx="1373" cy="1541" r="7" fill="#000"/>
<path class="k l1" d="M1364 1541H1382 M1373 1531V1551 M1417 1537 L1390 1541 V1544 L1417 1548Z M1412 1537V1548"/>
<text x="1897.5" y="1418" textLength="294" lengthAdjust="spacingAndGlyphs" style="font-weight:bold;font-size:90px;stroke:#000;stroke-width:2px">WCON</text>
</svg>
</body></html>
